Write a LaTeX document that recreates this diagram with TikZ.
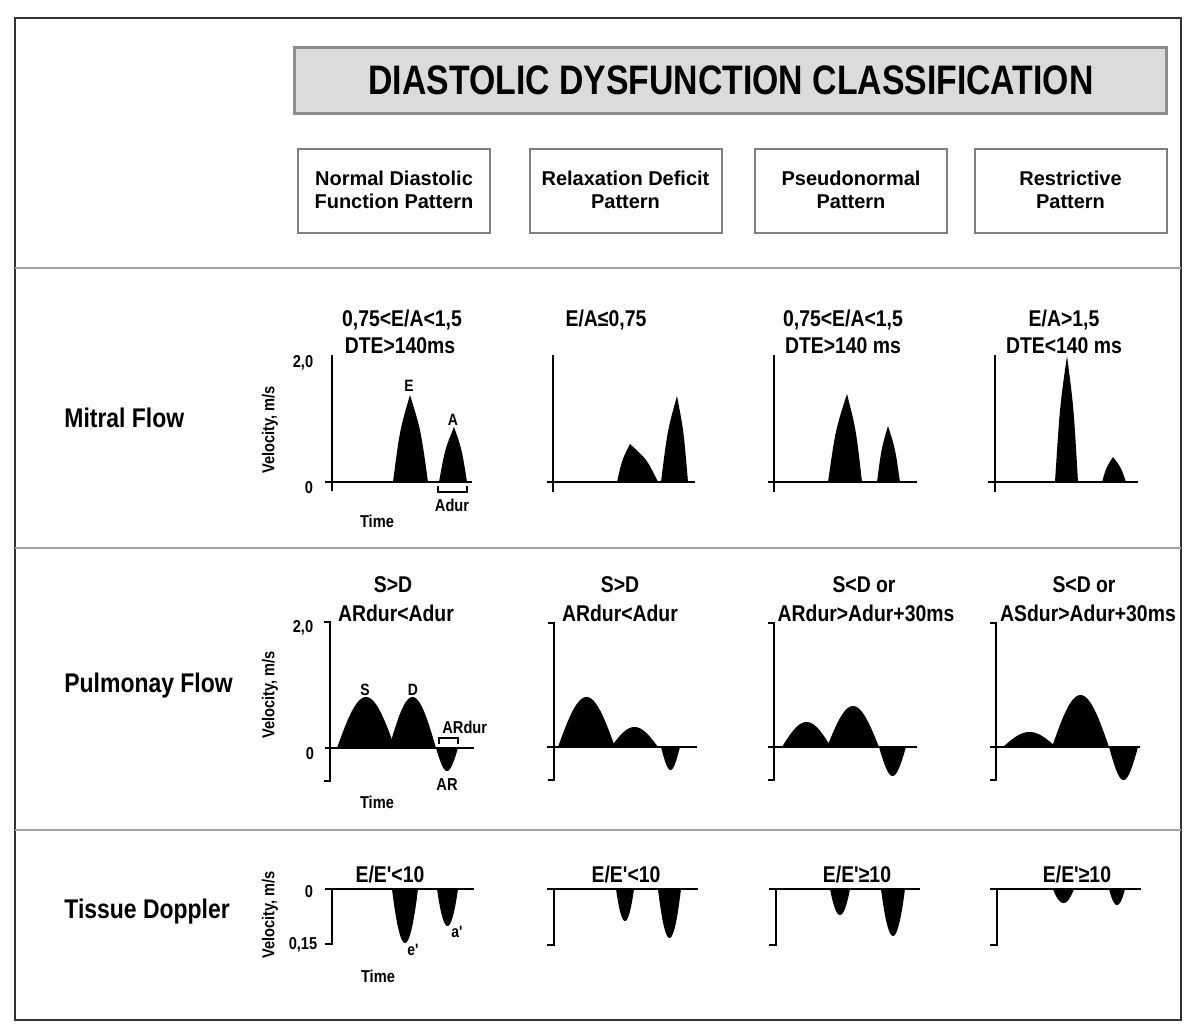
\documentclass[tikz,border=0pt]{standalone}
\usepackage{fontspec}
\setmainfont{Liberation Sans}
\newfontfamily\nar[FakeStretch=0.85]{Liberation Sans}
\newfontfamily\narr[FakeStretch=0.82]{Liberation Sans}
\newcommand{\mpeak}[5]{% x1, xp, yp, x2, yb
  \fill (#1,#5) .. controls ({#1+0.4*(#2-#1)},{#5-0.6*(#5-#3)}) .. (#2,#3)
    .. controls ({#4-0.4*(#4-#2)},{#5-0.6*(#5-#3)}) .. (#4,#5) -- cycle;}
\newcommand{\phump}[4]{% x1, x2, h (positive up), yb
  \fill plot[variable=\t,domain=0:180,samples=40] ({#1+(#2-#1)*\t/180},{#4-(#3)*sin(\t)}) -- cycle;}
\newcommand{\tdip}[4]{% x1, x2, depth, yb
  \fill plot[variable=\t,domain=-1:1,samples=40] ({(#1+#2)/2+(#2-#1)/2*\t},{#4+(#3)*(1-\t*\t)}) -- cycle;}
\begin{document}
\begin{tikzpicture}[x=0.5pt,y=-0.5pt,
  ax/.style={line width=1.2pt},
  brk/.style={line width=0.6pt},
  crit/.style={font=\nar\bfseries\fontsize{11.4}{13}\selectfont, anchor=base, inner sep=0},
  small/.style={font=\nar\bfseries\fontsize{8.6}{10}\selectfont, anchor=base, inner sep=0},
  tinyl/.style={font=\nar\bfseries\fontsize{8.2}{9}\selectfont, anchor=base, inner sep=0},
  rowlab/.style={font=\nar\bfseries\fontsize{13.5}{16}\selectfont, anchor=base west, inner sep=0},
  hdrbox/.style={draw=black!50, line width=1pt, fill=white, minimum width=96pt, minimum height=42pt, inner sep=0},
  hdrtxt/.style={font=\bfseries\fontsize{10}{11.5}\selectfont, anchor=base, inner sep=0},
  sep/.style={draw=black!35, line width=1.2pt}]
\useasboundingbox (0,0) rectangle (1200,1033);
% frame and separators
\draw[line width=1pt, black!80] (15,18) rectangle (1181,1020);
\draw[sep] (15,268) -- (1181,268);
\draw[sep] (15,548) -- (1181,548);
\draw[sep] (15,830) -- (1181,830);
% title
\node[draw=black!45, line width=1.5pt, fill=black!14, minimum width=436pt, minimum height=33pt, inner sep=0] (title) at (730,80) {};
\node[font=\narr\bfseries\fontsize{20.6}{23}\selectfont, anchor=base, inner sep=0] (titletxt) at (731,94) {DIASTOLIC DYSFUNCTION CLASSIFICATION};
% header boxes
\node[hdrbox] (b1) at (394,191) {};
\node[hdrbox] (b2) at (625.5,191) {};
\node[hdrbox] (b3) at (851,191) {};
\node[hdrbox] (b4) at (1070.5,191) {};
\node[hdrtxt] (b1a) at (394,185) {Normal Diastolic};
\node[hdrtxt] (b1b) at (394,208) {Function Pattern};
\node[hdrtxt] (b2a) at (625.5,185) {Relaxation Deficit};
\node[hdrtxt] (b2b) at (625.5,208) {Pattern};
\node[hdrtxt] (b3a) at (851,185) {Pseudonormal};
\node[hdrtxt] (b3b) at (851,208) {Pattern};
\node[hdrtxt] (b4a) at (1070.5,185) {Restrictive};
\node[hdrtxt] (b4b) at (1070.5,208) {Pattern};
% row labels
\node[rowlab] (rmit) at (64,427) {Mitral Flow};
\node[rowlab] (rpul) at (64,692) {Pulmonay Flow};
\node[rowlab] (rtis) at (64,918) {Tissue Doppler};

% ================= MITRAL FLOW =================
\node[crit] (m1a) at (402,326) {0,75<E/A<1,5};
\node[crit] (m1b) at (400,353) {DTE>140ms};
\node[crit] (m2a) at (606,326) {E/A≤0,75};
\node[crit] (m3a) at (843,326) {0,75<E/A<1,5};
\node[crit] (m3b) at (843,353) {DTE>140 ms};
\node[crit] (m4a) at (1064,326) {E/A>1,5};
\node[crit] (m4b) at (1064,353) {DTE<140 ms};
% axes
\draw[ax] (332,355) -- (332,491);
\draw[ax] (325,482) -- (472,482);
\draw[ax] (553,355) -- (553,492);
\draw[ax] (547,482) -- (695,482);
\draw[ax] (774,355) -- (774,492);
\draw[ax] (768,482) -- (917,482);
\draw[ax] (995,355) -- (995,492);
\draw[ax] (988,482) -- (1138,482);
% peaks
\mpeak{393}{410}{395}{428}{482}
\mpeak{439}{454}{427}{467}{482}
\mpeak{617}{630}{444}{658}{482}
\mpeak{661}{677}{396}{688}{482}
\mpeak{828}{847}{394}{862}{482}
\mpeak{877}{888}{426}{900}{482}
\mpeak{1055}{1067}{356}{1078}{482}
\mpeak{1102}{1113}{457}{1126}{482}
% labels
\node[small] (m20) at (303,367) {2,0};
\node[small] (m0) at (309,493) {0};
\node[small, anchor=center, rotate=90] (mvel) at (270,430) {Velocity, m/s};
\node[tinyl] (mE) at (409,391) {E};
\node[tinyl] (mA) at (453,425) {A};
\draw[brk] (438,486) -- (438,492) -- (467,492) -- (467,486);
\node[small] (madur) at (452,511) {Adur};
\node[small] (mtime) at (377,527) {Time};

% ================= PULMONARY FLOW =================
\node[crit] (p1a) at (393,592) {S>D};
\node[crit] (p1b) at (396,621) {ARdur<Adur};
\node[crit] (p2a) at (620,592) {S>D};
\node[crit] (p2b) at (620,621) {ARdur<Adur};
\node[crit] (p3a) at (864,592) {S<D or};
\node[crit] (p3b) at (866,621) {ARdur>Adur+30ms};
\node[crit] (p4a) at (1084,592) {S<D or};
\node[crit] (p4b) at (1088,621) {ASdur>Adur+30ms};
% axes
\draw[ax] (324,622) -- (330,622) -- (330,781) -- (324,781);
\draw[ax] (325,748) -- (474,748);
\draw[ax] (548,623) -- (554,623) -- (554,780) -- (548,780);
\draw[ax] (547,747) -- (697,747);
\draw[ax] (768,623) -- (774,623) -- (774,780) -- (768,780);
\draw[ax] (768,747) -- (917,747);
\draw[ax] (990,623) -- (996,623) -- (996,780) -- (990,780);
\draw[ax] (990,747) -- (1140,747);
% waves
\phump{337}{395}{51}{748}
\phump{389}{436}{51}{748}
\phump{436}{458}{-23}{748}
\phump{558}{615}{50}{747}
\phump{611}{658}{20}{747}
\phump{661}{680}{-23}{747}
\phump{782}{831}{25}{747}
\phump{827}{879}{41}{747}
\phump{879}{906}{-29}{747}
\phump{1003}{1056}{15}{747}
\phump{1052}{1109}{52}{747}
\phump{1109}{1138}{-33}{747}
% labels
\node[small] (p20) at (303,632) {2,0};
\node[small] (p0) at (310,759) {0};
\node[small, anchor=center, rotate=90] (pvel) at (270,695) {Velocity, m/s};
\node[tinyl] (pS) at (365,695) {S};
\node[tinyl] (pD) at (413,695) {D};
\draw[brk] (439,744) -- (439,738) -- (458,738) -- (458,744);
\node[small, anchor=base west] (pardur) at (442,733) {ARdur};
\node[small] (par) at (447,790) {AR};
\node[small] (ptime) at (377,808) {Time};

% ================= TISSUE DOPPLER =================
\node[crit] (t1a) at (390,882) {E/E'<10};
\node[crit] (t2a) at (626,882) {E/E'<10};
\node[crit] (t3a) at (857,882) {E/E'≥10};
\node[crit] (t4a) at (1077,882) {E/E'≥10};
% axes
\draw[ax] (332,889) -- (332,944) -- (325,944);
\draw[ax] (325,889) -- (474,889);
\draw[ax] (554,889) -- (554,945) -- (547,945);
\draw[ax] (547,889) -- (698,889);
\draw[ax] (776,889) -- (776,945) -- (769,945);
\draw[ax] (769,889) -- (920,889);
\draw[ax] (997,889) -- (997,945) -- (990,945);
\draw[ax] (990,889) -- (1141,889);
% dips
\tdip{392}{418}{54}{889}
\tdip{437}{458}{37}{889}
\tdip{616}{634}{32}{889}
\tdip{658}{681}{49}{889}
\tdip{830}{850}{26}{889}
\tdip{881}{905}{47}{889}
\tdip{1053}{1074}{14}{889}
\tdip{1109}{1125}{16}{889}
% labels
\node[small] (t0) at (309,897) {0};
\node[small] (t015) at (303,949) {0,15};
\node[small, anchor=center, rotate=90] (tvel) at (270,915) {Velocity, m/s};
\node[tinyl] (te) at (413,955) {e'};
\node[tinyl] (ta) at (457,937) {a'};
\node[small] (ttime) at (378,982) {Time};
\end{tikzpicture}
\end{document}
